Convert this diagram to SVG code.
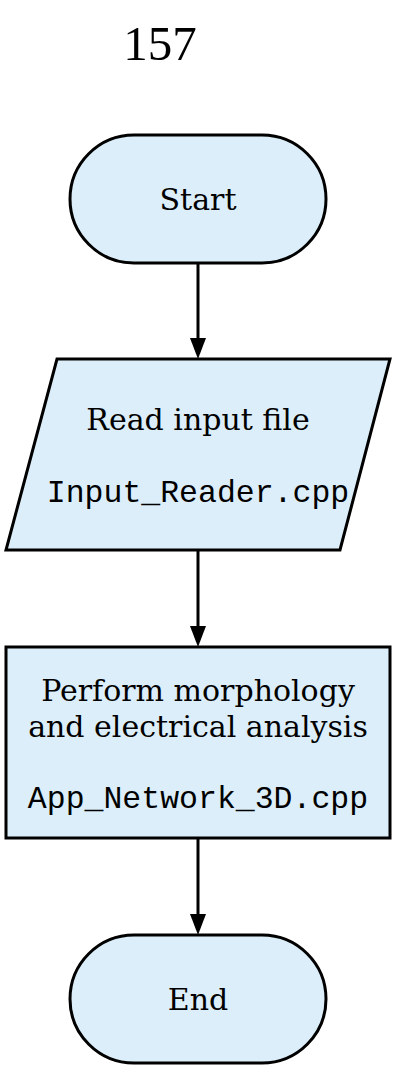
<svg xmlns="http://www.w3.org/2000/svg" width="404" height="1081" viewBox="0 0 404 1081">
<style>
.shape{fill:#dbeef9;stroke:#000;stroke-width:3}
.t{font-family:"DejaVu Serif","Liberation Serif",serif;font-size:30px;fill:#000;text-anchor:middle}
.m{font-family:"Liberation Mono","DejaVu Sans Mono",monospace;font-size:31.5px;fill:#000;text-anchor:middle}
.edge{stroke:#000;stroke-width:3;fill:none}
</style>
<text x="160" y="60" font-family="Liberation Serif,serif" font-size="49" text-anchor="middle">157</text>
<g id="start">
<rect class="shape" x="70" y="135" width="256" height="128" rx="64" ry="64"/>
<text class="t" x="198" y="210">Start</text>
</g>
<g id="read">
<polygon class="shape" points="57,359 390,359 340,550 6,550"/>
<text class="t" x="198" y="430">Read input file</text>
<text class="m" x="198" y="502">Input_Reader.cpp</text>
</g>
<g id="perform">
<rect class="shape" x="6" y="647" width="384" height="191"/>
<text class="t" x="198" y="701">Perform morphology</text>
<text class="t" x="198" y="737">and electrical analysis</text>
<text class="m" x="198" y="808">App_Network_3D.cpp</text>
</g>
<g id="end">
<rect class="shape" x="70" y="935" width="256" height="128" rx="64" ry="64"/>
<text class="t" x="198" y="1010">End</text>
</g>
<g id="connectors">
<line class="edge" x1="198" y1="263" x2="198" y2="340"/>
<polygon points="190,338 206,338 198,359"/>
<line class="edge" x1="198" y1="550" x2="198" y2="628"/>
<polygon points="190,626 206,626 198,647"/>
<line class="edge" x1="198" y1="838" x2="198" y2="916"/>
<polygon points="190,914 206,914 198,935"/>
</g>
</svg>
